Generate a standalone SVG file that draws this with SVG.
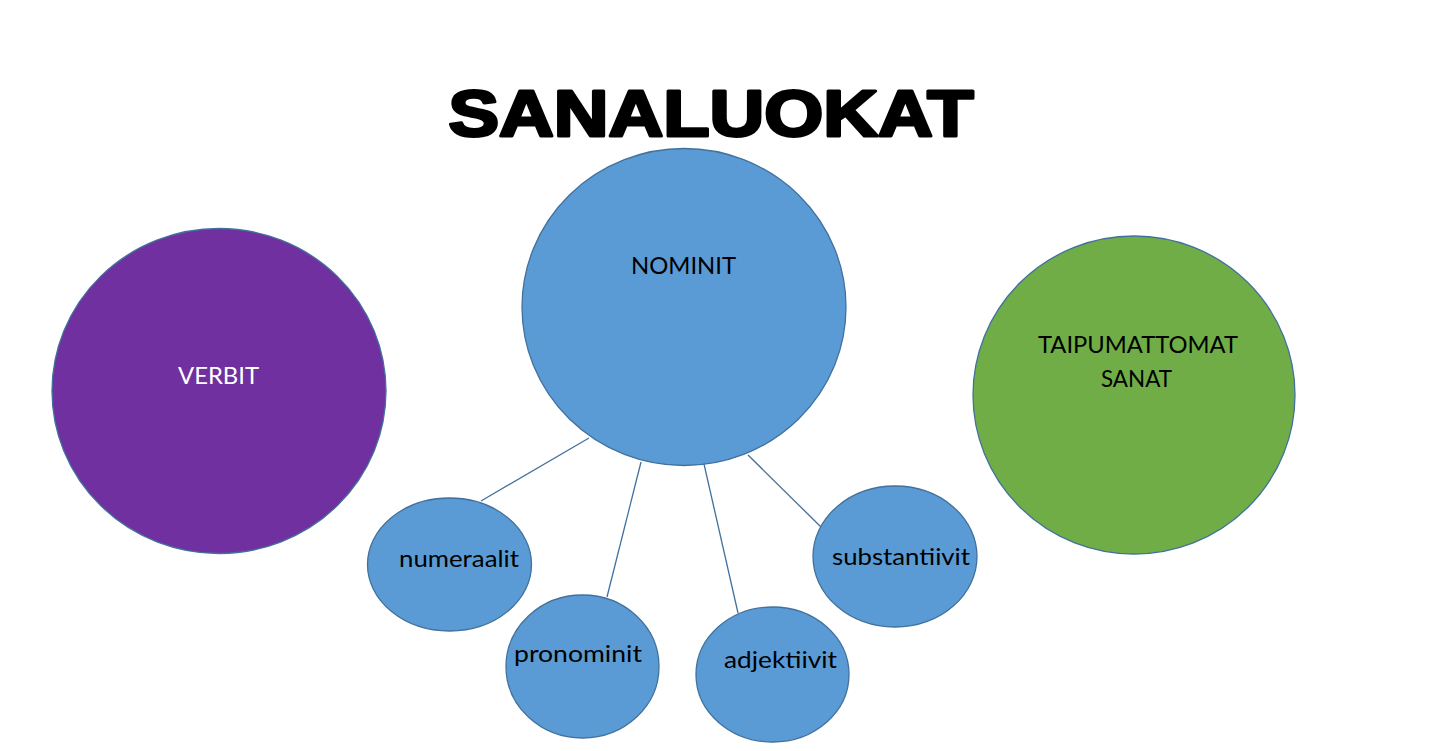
<svg xmlns="http://www.w3.org/2000/svg" width="1439" height="751" viewBox="0 0 1439 751">
<style>
.node{stroke:#41719C;stroke-width:1.3}
.blue{fill:#5B9BD5}
.lbl{font-family:Lato,"Open Sans","Liberation Sans",sans-serif;font-size:24px;fill:#000}
.title{font-family:"Liberation Sans",Arial,sans-serif;font-weight:bold;font-size:64px;fill:#000;stroke:#000;stroke-width:3;stroke-linejoin:round}
.conn line{stroke:#41719C;stroke-width:1.3}
</style>
<rect width="1439" height="751" fill="#fff"/>
<text class="title" x="448.5" y="135.5" textLength="525" lengthAdjust="spacingAndGlyphs">SANALUOKAT</text>
<g id="connectors" class="conn">
<line x1="589" y1="438" x2="481" y2="501"/>
<line x1="641" y1="462" x2="607" y2="597"/>
<line x1="704" y1="464" x2="738" y2="613"/>
<line x1="748" y1="455" x2="821" y2="527"/>
</g>
<g id="verbit">
<ellipse class="node" cx="219" cy="391" rx="167" ry="162.5" fill="#7030A0"/>
<text class="lbl" x="178" y="384" textLength="81" lengthAdjust="spacingAndGlyphs" style="fill:#fff">VERBIT</text>
</g>
<g id="nominit">
<ellipse class="node blue" cx="684" cy="307" rx="162" ry="158.5"/>
<text class="lbl" x="631" y="274" textLength="105" lengthAdjust="spacingAndGlyphs">NOMINIT</text>
</g>
<g id="taipumattomat">
<ellipse class="node" cx="1134" cy="395" rx="161" ry="159" fill="#70AD47"/>
<text class="lbl" x="1038" y="353" textLength="200" lengthAdjust="spacingAndGlyphs">TAIPUMATTOMAT</text>
<text class="lbl" x="1101" y="387" textLength="71" lengthAdjust="spacingAndGlyphs">SANAT</text>
</g>
<g id="numeraalit">
<ellipse class="node blue" cx="449.5" cy="564.5" rx="82" ry="66.5"/>
<text class="lbl" x="399" y="567" textLength="120" lengthAdjust="spacingAndGlyphs">numeraalit</text>
</g>
<g id="pronominit">
<ellipse class="node blue" cx="582.5" cy="666.5" rx="76.5" ry="71.5"/>
<text class="lbl" x="514" y="662" textLength="128" lengthAdjust="spacingAndGlyphs">pronominit</text>
</g>
<g id="adjektiivit">
<ellipse class="node blue" cx="772.5" cy="674.5" rx="76.5" ry="67.5"/>
<text class="lbl" x="724" y="668" textLength="113" lengthAdjust="spacingAndGlyphs">adjektiivit</text>
</g>
<g id="substantiivit">
<ellipse class="node blue" cx="895" cy="556.5" rx="82" ry="70.5"/>
<text class="lbl" x="832" y="565" textLength="138" lengthAdjust="spacingAndGlyphs">substantiivit</text>
</g>
</svg>
